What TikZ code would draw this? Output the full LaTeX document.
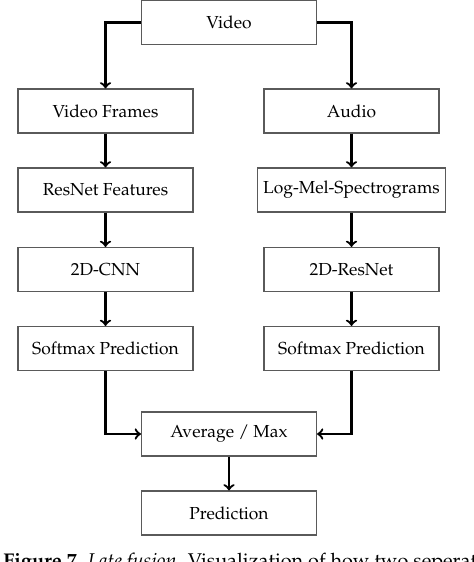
\documentclass[tikz,border=0pt]{standalone}
\usepackage[T1]{fontenc}
\usepackage{mathpazo}
\usepackage{tikz}
\usetikzlibrary{arrows,positioning,calc}
\definecolor{boxgray}{RGB}{90,90,90}

\begin{document}
\begin{tikzpicture}[
        stage/.style={rectangle, draw=boxgray, line width=0.65pt,
                      minimum width=3.5cm, minimum height=0.88cm,
                      inner xsep=0.12cm, align=center, font=\fontsize{9.9}{12}\selectfont},
        flow/.style={->, >=to, line width=1.3pt}
    ]
    \clip (0,0) rectangle (9.48,-11.24);

    %% ── source ──────────────────────────────────────────────────────────────
    \node[stage] (video) at (4.58,-0.45) {Video};

    %% ── visual branch ───────────────────────────────────────────────────────
    \node[stage] (frames)  at (2.11,-2.22) {Video Frames};
    \node[stage] (resfeat) at (2.11,-3.80) {ResNet Features};
    \node[stage] (cnn)     at (2.11,-5.39) {2D-CNN};
    \node[stage] (softl)   at (2.11,-6.97) {Softmax Prediction};

    %% ── audio branch ────────────────────────────────────────────────────────
    \node[stage] (audio)   at (7.03,-2.22) {Audio};
    \node[stage] (logmel)  at (7.03,-3.80) {Log-Mel-Spectrograms};
    \node[stage] (resnet)  at (7.03,-5.39) {2D-ResNet};
    \node[stage] (softr)   at (7.03,-6.97) {Softmax Prediction};

    %% ── fusion ──────────────────────────────────────────────────────────────
    \node[stage] (fuse)    at (4.58,-8.68) {Average / Max};
    \node[stage] (pred)    at (4.58,-10.26) {Prediction};

    %% ── connectors ──────────────────────────────────────────────────────────
    \draw[flow] (video.west) -| (frames.north);
    \draw[flow] (video.east) -| (audio.north);
    \draw[flow] (frames) -- (resfeat);
    \draw[flow] (resfeat) -- (cnn);
    \draw[flow] (cnn) -- (softl);
    \draw[flow] (audio) -- (logmel);
    \draw[flow] (logmel) -- (resnet);
    \draw[flow] (resnet) -- (softr);
    \draw[flow] (softl.south) |- (fuse.west);
    \draw[flow] (softr.south) |- (fuse.east);
    \draw[flow] (fuse) -- (pred);

    %% caption, cut off at the edge
    \node[anchor=north west, inner sep=0pt, font=\fontsize{11.3}{13}\selectfont]
        (caption) at (0.06,-11.06)
        {\textbf{Figure 7.} \textit{Late fusion.} Visualization of how two seperate models};
\end{tikzpicture}
\end{document}
